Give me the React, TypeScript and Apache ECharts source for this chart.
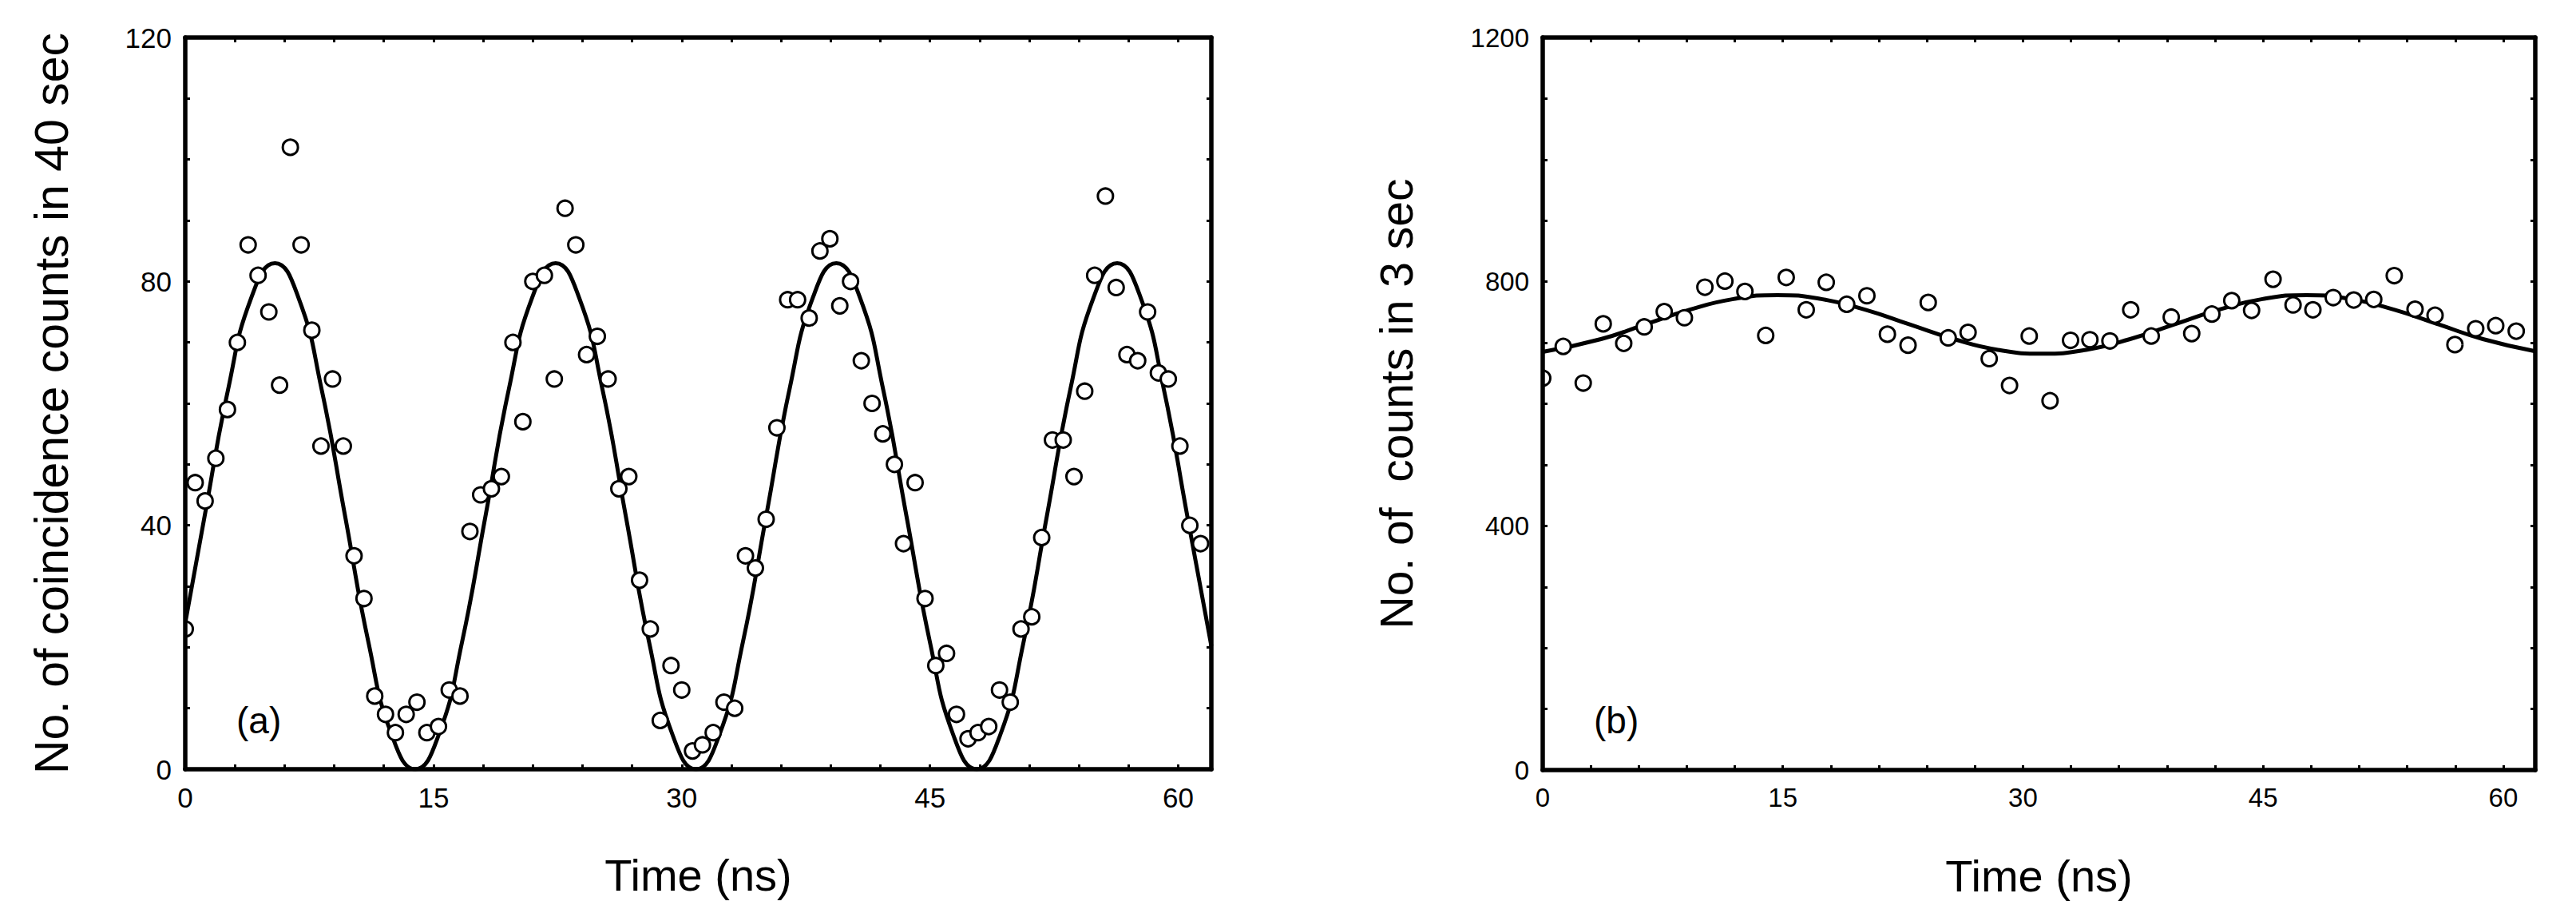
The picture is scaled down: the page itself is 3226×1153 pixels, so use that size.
import React, { useEffect, useRef } from "react";
import * as echarts from "echarts";

const FONT = "'Liberation Sans', Arial, Helvetica, sans-serif";

// ---------- Panel (a): coincidence counts in 40 sec ----------
const aPointX = [
  0, 0.6, 1.2, 1.85, 2.55, 3.15, 3.8, 4.4, 5.05, 5.7, 6.35, 7.0, 7.65, 8.2, 8.9, 9.55,
  10.2, 10.8, 11.45, 12.1, 12.7, 13.35, 14.0, 14.6, 15.3, 15.95, 16.6, 17.2, 17.85, 18.5,
  19.1, 19.8, 20.4, 21.0, 21.7, 22.3, 22.95, 23.6, 24.25, 24.9, 25.55, 26.2, 26.8, 27.45,
  28.1, 28.7, 29.35, 30.0, 30.65, 31.25, 31.9, 32.55, 33.2, 33.85, 34.45, 35.1, 35.75,
  36.4, 37.0, 37.7, 38.35, 38.95, 39.55, 40.2, 40.85, 41.5, 42.15, 42.85, 43.4, 44.1,
  44.7, 45.35, 46.0, 46.6, 47.3, 47.9, 48.55, 49.2, 49.85, 50.5, 51.15, 51.75, 52.4,
  53.05, 53.7, 54.35, 54.95, 55.6, 56.25, 56.9, 57.55, 58.15, 58.8, 59.4, 60.1, 60.7, 61.35,
];
const aPointY = [
  23, 47, 44, 51, 59, 70, 86, 81, 75, 63, 102, 86, 72, 53, 64, 53,
  35, 28, 12, 9, 6, 9, 11, 6, 7, 13, 12, 39, 45, 46,
  48, 70, 57, 80, 81, 64, 92, 86, 68, 71, 64, 46, 48, 31,
  23, 8, 17, 13, 3, 4, 6, 11, 10, 35, 33, 41, 56,
  77, 77, 74, 85, 87, 76, 80, 67, 60, 55, 50, 37, 47,
  28, 17, 19, 9, 5, 6, 7, 13, 11, 23, 25, 38, 54,
  54, 48, 62, 81, 94, 79, 68, 67, 75, 65, 64, 53, 40, 37,
];
// fitted curve
const aFitX = [
  0, 1.17, 2.59, 4.0, 5.42, 6.83, 8.24, 9.66, 11.07, 12.48, 13.9, 15.31, 16.72, 18.14,
  19.55, 20.97, 22.38, 23.79, 25.21, 26.62, 28.03, 29.45, 30.86, 32.27, 33.69, 35.1,
  36.51, 37.93, 39.34, 40.76, 42.17, 43.58, 45.0, 46.41, 47.82, 49.24, 50.65, 52.06,
  53.48, 54.89, 56.31, 57.72, 59.13, 60.55, 62,
];
const aFitY = [
  24.0, 41.5, 62.3, 77.4, 83, 77.4, 62.3, 41.5, 20.8, 5.6, 0, 5.6, 20.8, 41.5,
  62.3, 77.4, 83, 77.4, 62.3, 41.5, 20.8, 5.6, 0, 5.6, 20.8, 41.5,
  62.3, 77.4, 83, 77.4, 62.3, 41.5, 20.8, 5.6, 0, 5.6, 20.8, 41.5,
  62.3, 77.4, 83, 77.4, 62.3, 41.5, 20.2,
];

// ---------- Panel (b): counts in 3 sec ----------
const bPointX = [
  0, 1.28, 2.53, 3.78, 5.06, 6.34, 7.59, 8.85, 10.13, 11.38, 12.63, 13.93, 15.21, 16.46,
  17.71, 18.99, 20.25, 21.53, 22.82, 24.08, 25.33, 26.57, 27.89, 29.16, 30.39, 31.69,
  32.97, 34.18, 35.43, 36.73, 38.01, 39.26, 40.54, 41.8, 43.04, 44.28, 45.62, 46.87,
  48.11, 49.38, 50.66, 51.91, 53.19, 54.49, 55.74, 56.98, 58.28, 59.53, 60.81,
];
const bPointY = [
  642, 694, 634, 731, 699, 726, 751, 741, 791, 801, 784, 712, 807, 754,
  799, 763, 777, 714, 696, 766, 708, 717, 674, 630, 711, 605,
  704, 705, 703, 754, 711, 742, 715, 747, 769, 753, 804, 762,
  754, 774, 770, 771, 810, 755, 745, 697, 723, 728, 719,
];
const bFitX = [
  0, 3.64, 6.4, 9.15, 11.91, 14.66, 17.41, 20.17, 22.92, 25.68, 28.43, 31.19, 33.94,
  36.69, 39.45, 42.2, 44.96, 47.71, 50.46, 53.22, 55.97, 58.73, 62,
];
const bFitY = [
  685, 706, 730, 754, 771.6, 778, 771.6, 754, 730, 706, 688.4, 682, 688.4,
  706, 730, 754, 771.6, 778, 771.6, 754, 730, 706, 686,
];

// axis ranges / tick labels
const xMax = 62;
const xMinorStep = 3;
const xLabelStep = 15;
const aYMax = 120;
const aYMinorStep = 10;
const aYLabelStep = 40;
const bYMax = 1200;
const bYMinorStep = 100;
const bYLabelStep = 400;
const xTitle = "Time (ns)";
const aYTitle = "No. of coincidence counts in 40 sec";
const bYTitle = "No. of  counts in 3 sec";

const pairs = (xs: number[], ys: number[]) => xs.map((x, i) => [x, ys[i]]);

const lineStyle = { color: "#000", width: 5.5 };
const tickStyle = { color: "#000", width: 3 };

function xAxisPair(gridIndex: number, labelSize: number) {
  const common = {
    type: "value",
    gridIndex,
    min: 0,
    max: xMax,
    interval: xMinorStep,
    splitLine: { show: false },
    axisLine: { show: true, onZero: false, lineStyle },
    axisTick: { show: true, inside: true, length: 6, lineStyle: tickStyle },
    z: 10,
  };
  return [
    {
      ...common,
      position: "bottom",
      axisLabel: {
        show: true,
        margin: 18,
        fontSize: labelSize,
        color: "#000",
        fontFamily: FONT,
        formatter: (v: number) => (v % xLabelStep === 0 ? String(v) : ""),
      },
      name: xTitle,
      nameLocation: "middle",
      nameGap: 104,
      nameTextStyle: { fontSize: 56, color: "#000", fontFamily: FONT },
    },
    { ...common, position: "top", axisLabel: { show: false } },
  ];
}

function yAxisPair(
  gridIndex: number,
  max: number,
  step: number,
  labelStep: number,
  title: string,
  gap: number,
  titleSize: number,
  labelSize: number
) {
  const common = {
    type: "value",
    gridIndex,
    min: 0,
    max,
    interval: step,
    splitLine: { show: false },
    axisLine: { show: true, onZero: false, lineStyle },
    axisTick: { show: true, inside: true, length: 6, lineStyle: tickStyle },
    z: 10,
  };
  return [
    {
      ...common,
      position: "left",
      axisLabel: {
        show: true,
        margin: 17,
        fontSize: labelSize,
        color: "#000",
        fontFamily: FONT,
        formatter: (v: number) => (v % labelStep === 0 ? String(v) : ""),
      },
      name: title,
      nameLocation: "middle",
      nameGap: gap,
      nameTextStyle: { fontSize: titleSize, color: "#000", fontFamily: FONT },
    },
    { ...common, position: "right", axisLabel: { show: false } },
  ];
}

function fitSeries(axis: number, data: number[][]) {
  return {
    type: "line",
    xAxisIndex: axis,
    yAxisIndex: axis,
    data,
    smooth: true,
    showSymbol: false,
    symbol: "none",
    lineStyle: { color: "#000", width: 5 },
    clip: true,
    z: 2,
  };
}

function pointSeries(axis: number, data: number[][]) {
  return {
    type: "scatter",
    xAxisIndex: axis,
    yAxisIndex: axis,
    data,
    symbol: "circle",
    symbolSize: 19,
    itemStyle: { color: "#fff", borderColor: "#000", borderWidth: 3, opacity: 1 },
    z: 3,
  };
}

export default function App() {
  const ref = useRef<HTMLDivElement>(null);
  useEffect(() => {
    if (!ref.current) return;
    const chart = echarts.init(ref.current, null, { renderer: "svg" });
    const option = {
      animation: false,
      backgroundColor: "#fff",
      grid: [
        { left: 232, top: 47, width: 1285, height: 916, containLabel: false },
        { left: 1932, top: 47, width: 1243, height: 917, containLabel: false },
      ],
      xAxis: [...xAxisPair(0, 35), ...xAxisPair(1, 33)],
      yAxis: [
        ...yAxisPair(0, aYMax, aYMinorStep, aYLabelStep, aYTitle, 138, 59, 35),
        ...yAxisPair(1, bYMax, bYMinorStep, bYLabelStep, bYTitle, 155, 57, 33),
      ],
      series: [
        fitSeries(0, pairs(aFitX, aFitY)),
        pointSeries(0, pairs(aPointX, aPointY)),
        fitSeries(2, pairs(bFitX, bFitY)),
        pointSeries(2, pairs(bPointX, bPointY)),
      ],
      graphic: [
        { type: "rect", z: 5, shape: { x: 195, y: 30, width: 35, height: 950 }, style: { fill: "#fff" } },
        { type: "rect", z: 5, shape: { x: 1895, y: 30, width: 35, height: 950 }, style: { fill: "#fff" } },
        {
          type: "text",
          z: 6,
          x: 296,
          y: 902,
          style: { text: "(a)", fontSize: 46, fontFamily: FONT, fill: "#000", align: "left", verticalAlign: "middle" },
        },
        {
          type: "text",
          z: 6,
          x: 1996,
          y: 902,
          style: { text: "(b)", fontSize: 46, fontFamily: FONT, fill: "#000", align: "left", verticalAlign: "middle" },
        },
      ],
    };
    chart.setOption(option as any);
    return () => chart.dispose();
  }, []);
  return (
    <div
      ref={ref}
      style={{ position: "fixed", left: 0, top: 0, width: 3226, height: 1153, background: "#fff" }}
    />
  );
}
